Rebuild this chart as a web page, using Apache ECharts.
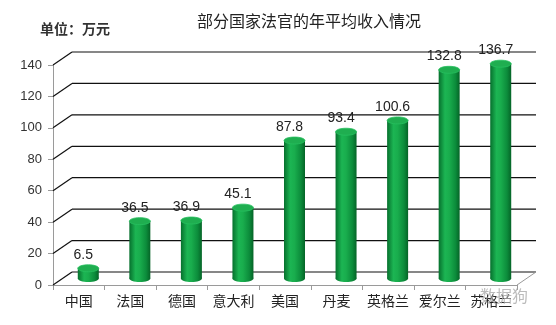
<!DOCTYPE html>
<html>
<head>
<meta charset="utf-8">
<script src="https://cdn.jsdelivr.net/npm/echarts@6/dist/echarts.min.js"></script>
<style>
  html, body { margin: 0; padding: 0; background: #fff; }
  #judgeIncomeChart { width: 556px; height: 325px; }
</style>
</head>
<body>
<div id="judgeIncomeChart"></div>
<script>
// 数据
const countries = ['中国', '法国', '德国', '意大利', '美国', '丹麦', '英格兰', '爱尔兰', '苏格兰']
const income = [6.5, 36.5, 36.9, 45.1, 87.8, 93.4, 100.6, 132.8, 136.7]
const yTicks = [0, 20, 40, 60, 80, 100, 120, 140]

// 3D 深度偏移
const depthX = 19
const depthY = -13
const barWidth = 21
const capRy = 3.5

const cnFont = '"Noto Sans CJK SC", sans-serif'
const numFont = '"Liberation Sans", Arial, sans-serif'

// 背景墙 + 网格线
function renderWall (params, api) {
  const val = api.value(1)
  const p = api.coord([0, val])
  const band = api.size([1, 0])[0]
  const left = p[0] - band / 2
  const right = left + band * countries.length
  const y = p[1]
  const children = [
    {
      type: 'line',
      shape: { x1: left, y1: y, x2: left + depthX, y2: y + depthY },
      style: { stroke: '#111', lineWidth: 1.2 }
    },
    {
      type: 'line',
      shape: { x1: left + depthX, y1: y + depthY, x2: right + depthX, y2: y + depthY },
      style: { stroke: '#111', lineWidth: 1.2 }
    }
  ]
  if (val === 0) {
    children.push({
      type: 'line',
      shape: { x1: right, y1: y, x2: right + depthX, y2: y + depthY },
      style: { stroke: '#9a9a9a', lineWidth: 1 }
    })
  }
  return { type: 'group', children: children }
}

// 圆柱
function renderCylinder (params, api) {
  const idx = api.value(0)
  const val = api.value(1)
  const base = api.coord([idx, 0])
  const top = api.coord([idx, val])
  const cx = base[0] + depthX / 2
  const by = base[1] + depthY / 2
  const ty = top[1] + depthY / 2
  const bodyFill = new echarts.graphic.LinearGradient(0, 0, 1, 0, [
    { offset: 0, color: '#06702d' },
    { offset: 0.3, color: '#1cb553' },
    { offset: 0.5, color: '#19ad4d' },
    { offset: 0.8, color: '#0c8c3b' },
    { offset: 1, color: '#056427' }
  ])
  return {
    type: 'group',
    children: [
      {
        type: 'ellipse',
        shape: { cx: cx, cy: by, rx: barWidth / 2, ry: capRy },
        style: { fill: bodyFill }
      },
      {
        type: 'rect',
        shape: { x: cx - barWidth / 2, y: ty, width: barWidth, height: by - ty },
        style: { fill: bodyFill }
      },
      {
        type: 'ellipse',
        shape: { cx: cx, cy: ty, rx: barWidth / 2, ry: capRy },
        style: { fill: '#1fae50', stroke: '#27c060', lineWidth: 0.8 }
      },
      {
        type: 'text',
        style: {
          text: String(val),
          x: cx - 5,
          y: ty - capRy - 10,
          align: 'center',
          verticalAlign: 'middle',
          fontSize: 14,
          fontFamily: numFont,
          fill: '#222'
        }
      }
    ]
  }
}

const option = {
  backgroundColor: '#fff',
  animation: false,
  title: {
    text: '部分国家法官的年平均收入情况',
    left: 304,
    top: 8,
    textAlign: 'center',
    textStyle: {
      fontFamily: cnFont,
      fontSize: 16,
      fontWeight: 'normal',
      color: '#222'
    }
  },
  graphic: [
    {
      type: 'text',
      left: 40,
      top: 22,
      style: {
        text: '单位：万元',
        fontFamily: cnFont,
        fontSize: 14,
        fontWeight: 'bold',
        fill: '#333'
      }
    },
    {
      type: 'text',
      left: 480,
      top: 288,
      z: 10,
      style: {
        text: '数据狗',
        fontFamily: cnFont,
        fontSize: 16,
        fill: 'rgba(170,170,170,0.8)'
      }
    }
  ],
  grid: {
    left: 53,
    right: 39,
    top: 65,
    bottom: 40
  },
  xAxis: {
    type: 'category',
    data: countries,
    boundaryGap: true,
    axisLine: { lineStyle: { color: '#9a9a9a' } },
    axisTick: { show: true, length: 5, lineStyle: { color: '#9a9a9a' } },
    axisLabel: {
      interval: 0,
      hideOverlap: false,
      margin: 9,
      fontFamily: cnFont,
      fontSize: 14,
      color: '#222'
    }
  },
  yAxis: {
    type: 'value',
    min: 0,
    max: 140,
    interval: 20,
    axisLine: { show: true, lineStyle: { color: '#9a9a9a' } },
    axisTick: { show: true, length: 5, lineStyle: { color: '#9a9a9a' } },
    splitLine: { show: false },
    axisLabel: {
      margin: 11,
      fontFamily: numFont,
      fontSize: 13,
      color: '#333'
    }
  },
  series: [
    {
      type: 'custom',
      name: 'wall',
      silent: true,
      clip: false,
      z: 1,
      encode: { x: 0, y: 1 },
      data: yTicks.map(v => [0, v]),
      renderItem: renderWall
    },
    {
      type: 'custom',
      name: '年平均收入',
      clip: false,
      z: 5,
      encode: { x: 0, y: 1 },
      data: income.map((v, i) => [i, v]),
      renderItem: renderCylinder
    }
  ]
}

const chart = echarts.init(document.getElementById('judgeIncomeChart'))
chart.setOption(option, true)
</script>
</body>
</html>
